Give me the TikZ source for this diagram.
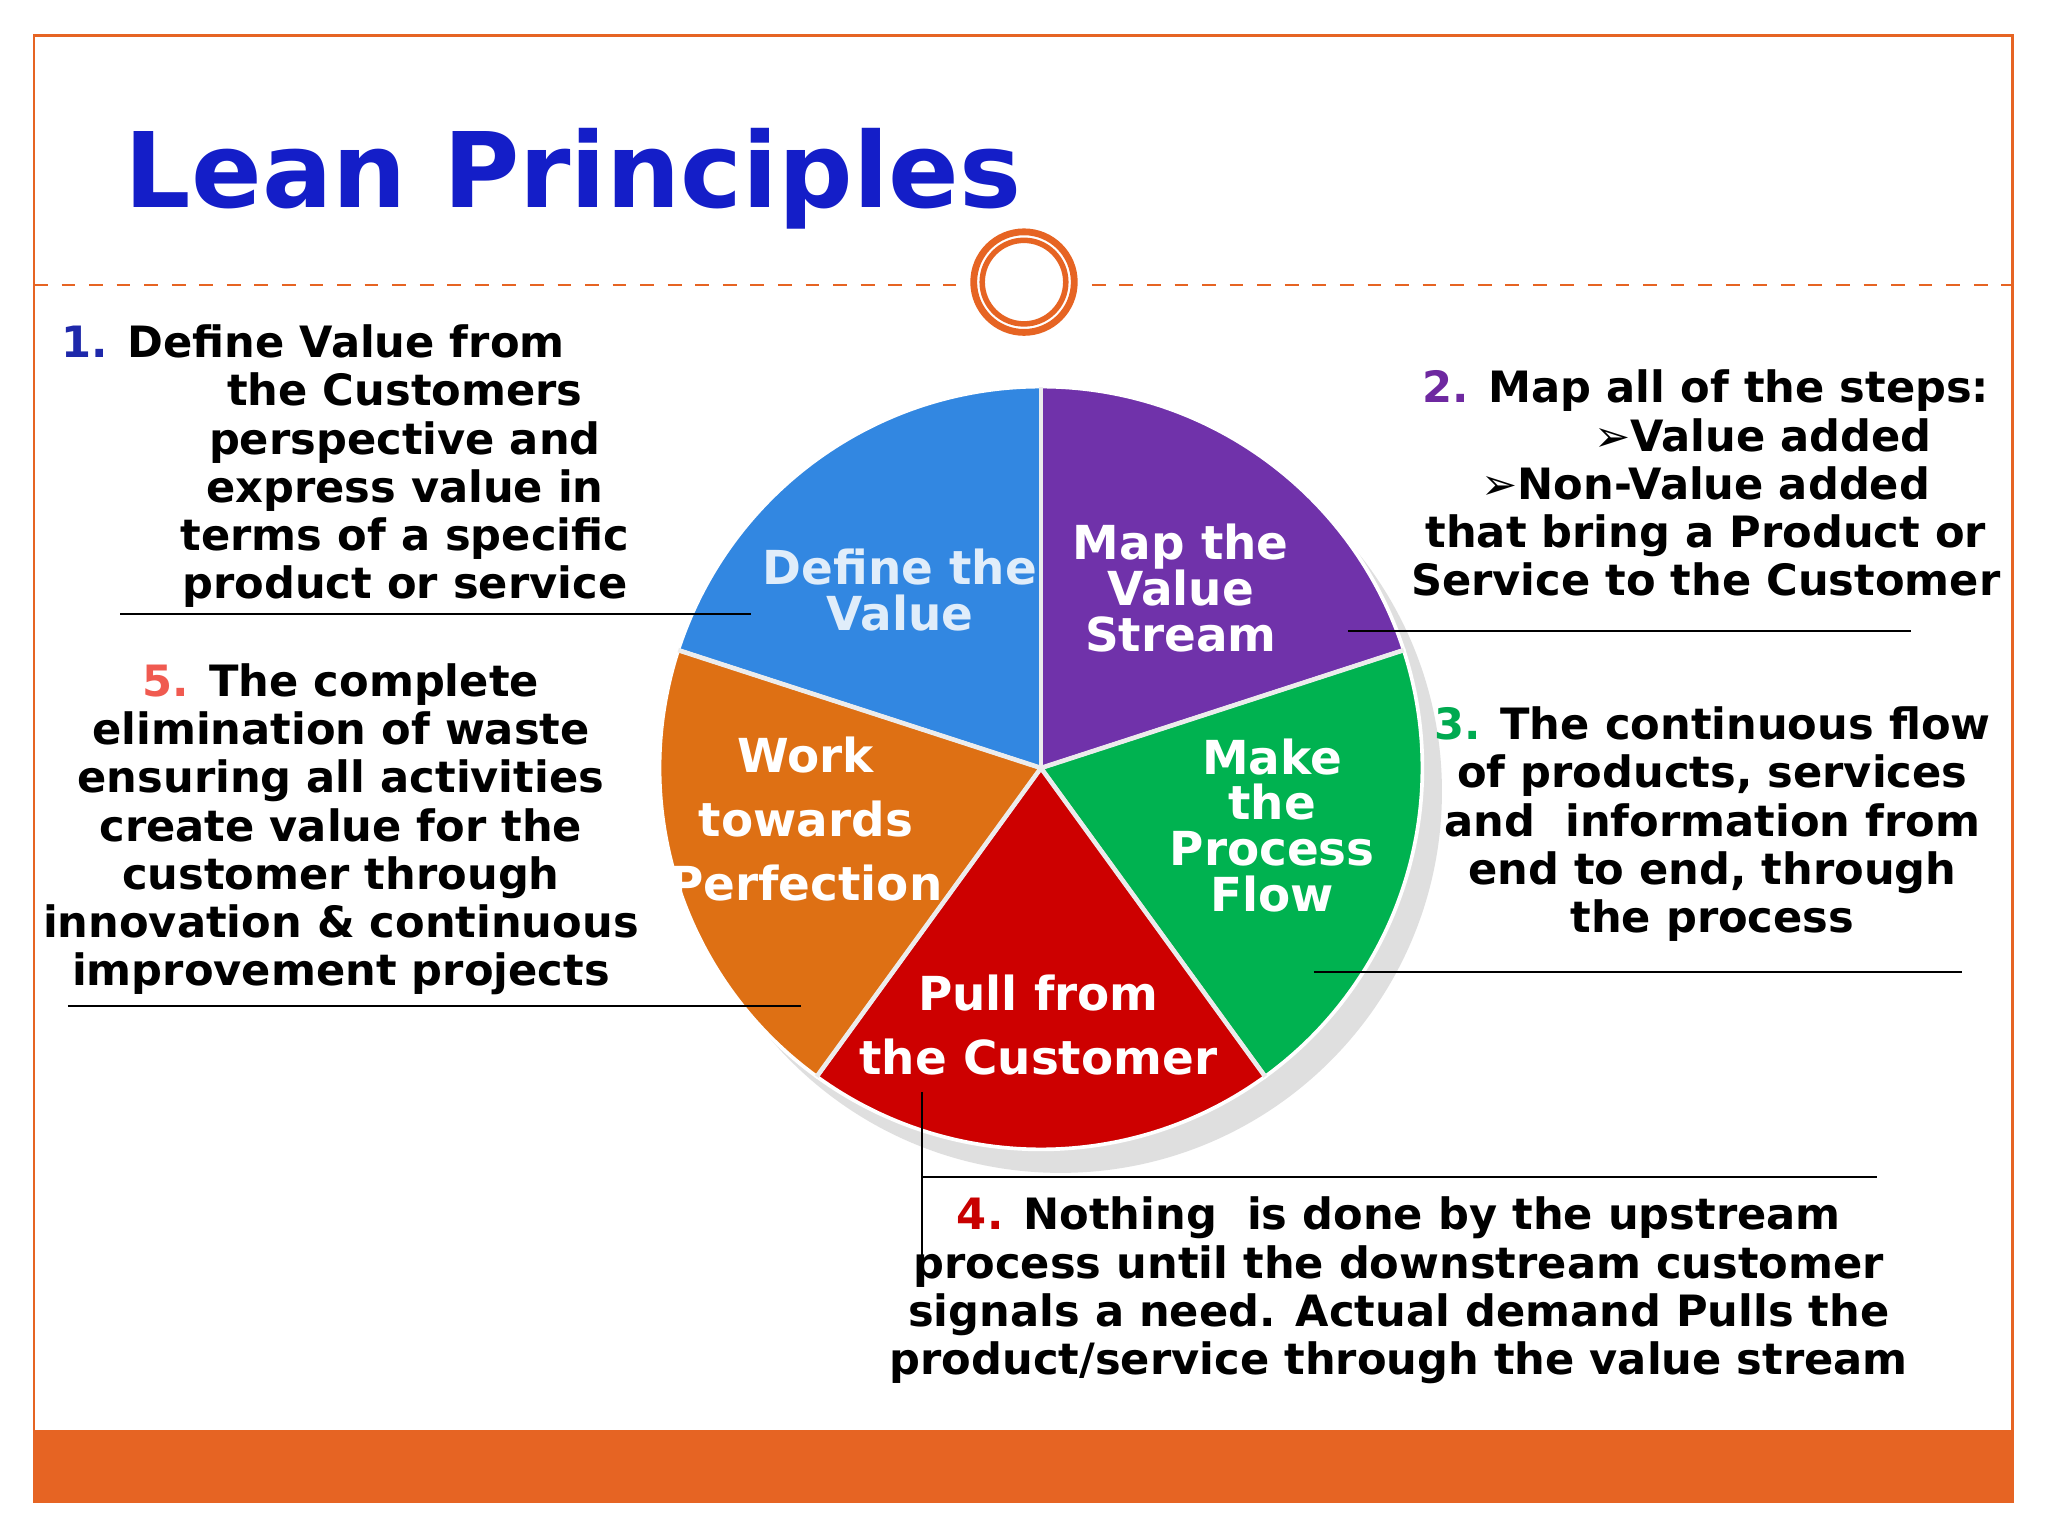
\documentclass[tikz,border=0pt]{standalone}
\usepackage{fontspec}
\setmainfont{DejaVu Sans}
\usetikzlibrary{shadows}
\definecolor{frameor}{RGB}{230,100,35}
\definecolor{ttl}{RGB}{20,30,200}
\definecolor{cblue}{RGB}{50,135,225}
\definecolor{cpurp}{RGB}{112,50,170}
\definecolor{cgreen}{RGB}{0,178,80}
\definecolor{cred}{RGB}{205,0,0}
\definecolor{corange}{RGB}{222,112,20}
\definecolor{n1}{RGB}{30,40,170}
\definecolor{n2}{RGB}{110,40,160}
\definecolor{n3}{RGB}{0,170,80}
\definecolor{n4}{RGB}{200,0,0}
\definecolor{n5}{RGB}{240,90,80}
\tikzset{
  body/.style={align=center,font=\bfseries\fontsize{9.4}{10.5}\selectfont,text=black,inner sep=0pt},
  pie/.style={align=center,font=\bfseries\fontsize{10.2}{10}\selectfont,text=white,inner sep=0pt},
  rule/.style={line width=0.5pt,black},
  slice/.style={draw=white,line width=0.8pt}
}
\begin{document}
\begin{tikzpicture}[x=0.01cm,y=0.01cm]
\useasboundingbox (0,0) rectangle (1568,-1176);
\fill[white] (0,0) rectangle (1568,-1176);
\draw[frameor,line width=0.6pt] (26,-27) rectangle (1541,-1150);
\fill[frameor] (26,-1095) rectangle (1541,-1150);
\draw[frameor,dashed,line width=0.5pt] (26,-218) -- (732,-218);
\draw[frameor,dashed,line width=0.5pt] (836,-218) -- (1541,-218);
\node[draw=frameor,line width=1.2pt,circle,minimum size=78\pgflinewidth/1.2pt*0.01cm,inner sep=0pt] (ring) at (784,-216) {};
\draw[frameor,line width=1.2pt] (784,-216) circle (38);
\draw[frameor,line width=1.2pt] (784,-216) circle (32);
\node[anchor=west,font=\bfseries\fontsize{22.7}{26}\selectfont,text=ttl,inner sep=0pt] (title) at (95,-137) {Lean Principles};
% pie shadow
\fill[gray!25] (812,-606) circle (292);
\coordinate (c) at (797,-588);
\fill[slice,fill=cblue] (c) -- ++(90:292) arc (90:162:292) -- cycle;
\fill[slice,fill=cpurp] (c) -- ++(18:292) arc (18:90:292) -- cycle;
\fill[slice,fill=cgreen] (c) -- ++(-54:292) arc (-54:18:292) -- cycle;
\fill[slice,fill=cred] (c) -- ++(-126:292) arc (-126:-54:292) -- cycle;
\fill[slice,fill=corange] (c) -- ++(162:292) arc (162:234:292) -- cycle;
\foreach \a in {90,18,-54,-126,162} \draw[white!85!gray,line width=1pt] (c) -- ++(\a:292);
\node[pie,text=white!85!cblue] (p1) at (689,-452) {Define the\\Value};
\node[pie] (p2) at (904,-450) {Map the\\Value\\Stream};
\node[pie] (p3) at (974,-632) {Make\\the\\Process\\Flow};
\node[pie,font=\bfseries\fontsize{10.2}{13.9}\selectfont] (p4) at (795,-785) {Pull from\\the Customer};
\node[pie,font=\bfseries\fontsize{10.2}{13.9}\selectfont] (p5) at (617,-627) {Work\\towards\\Perfection};
% texts
\node[body] (t1) at (310,-357) {\hspace*{-40pt}\textcolor{n1}{1.} Define Value from\\the Customers\\perspective and\\express value in\\terms of a specific\\product or service};
\node[body] (t2) at (1306,-370) {\textcolor{n2}{2.} Map all of the steps:\\\hspace*{25pt}➢Value added\\➢Non-Value added\\that bring a Product or\\Service to the Customer};
\node[body] (t3) at (1311,-631) {\textcolor{n3}{3.} The continuous flow\\of products, services\\and\ \ information from\\end to end, through\\the process};
\node[body] (t4) at (1071,-988) {\textcolor{n4}{4.} Nothing\ \ is done by the upstream\\process until the downstream customer\\signals a need. Actual demand Pulls the\\product/service through the value stream};
\node[body] (t5) at (261,-635) {\textcolor{n5}{5.} The complete\\elimination of waste\\ensuring all activities\\create value for the\\customer through\\innovation \& continuous\\improvement projects};
% rules
\coordinate (l1a) at (92,-470); \coordinate (l1b) at (575,-470);
\coordinate (l2a) at (1032,-483); \coordinate (l2b) at (1463,-483);
\coordinate (l3a) at (1006,-744); \coordinate (l3b) at (1502,-744);
\coordinate (l5a) at (52,-770); \coordinate (l5b) at (613,-770);
\coordinate (l4a) at (706,-836); \coordinate (l4b) at (706,-965);
\coordinate (l4c) at (706,-901); \coordinate (l4d) at (1437,-901);
\draw[rule] (l1a) -- (l1b);
\draw[rule] (l2a) -- (l2b);
\draw[rule] (l3a) -- (l3b);
\draw[rule] (l5a) -- (l5b);
\draw[rule] (l4a) -- (l4b);
\draw[rule] (l4c) -- (l4d);
\end{tikzpicture}
\end{document}
